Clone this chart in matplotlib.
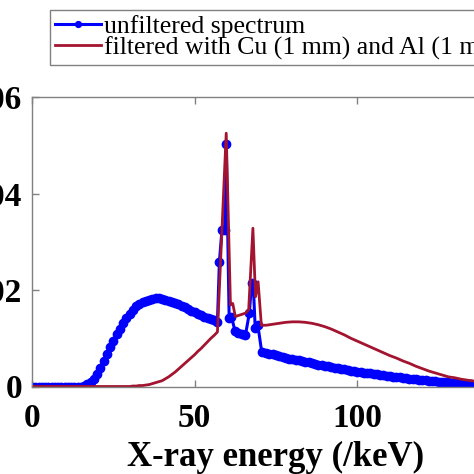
import matplotlib
matplotlib.use("Agg")
import matplotlib.pyplot as plt

# unfiltered spectrum (blue, with markers)
blue_e = list(range(0, 58)) + [57.6, 58.4, 59.2, 59.7, 60.6, 61.3, 62.4, 63.4, 64.5, 65.6,
                                66.8, 67.5, 68.0, 68.6, 69.4, 70.6] + list(range(72, 141))
blue_v = [0] * 16 + [
    .0002, .0005, .0009, .0016, .0026, .0039, .0053, .0067, .0081, .0095,
    .0108, .0120, .0132, .0142, .0151, .0159, .0166, .0171, .0175, .0178,
    .0180, .0182, .0183, .0183, .0182, .0180, .0178, .0176, .0173, .0170,
    .0167, .0164, .0160, .0157, .0154, .0151, .0148, .0145, .0142, .0140,
    .0137, .0134,
    # K lines
    .0259, .0325, .0325, .0502, .0143, .0145, .0115, .0110, .0108, .0106,
    .0152, .0214, .0213, .0122, .0128, .0072,
    # 72..140
    .0070, .0068, .0067, .0065, .0063, .0062, .0060, .0058, .0057, .0055,
    .0054, .0052, .0051, .0050, .0048, .0047, .0045, .0044, .0043, .0042,
    .0040, .0039, .0038, .0037, .0036, .0034, .0033, .0032, .0031, .0030,
    .0029, .0028, .0027, .0026, .0025, .0024, .0023, .0022, .0021, .0020,
    .0019, .0019, .0018, .0017, .0016, .0016, .0015, .0014, .0013, .0013,
    .0012, .0011, .0011, .0010, .0010, .0009, .0009, .0008, .0008, .0007,
    .0007, .0006, .0005, .0005, .0004, .0003, .0002, .0001, .0000]

# filtered with Cu + Al (dark red line)
red_e = list(range(0, 58)) + [59.7, 61.0, 61.7, 62.5, 65.6, 66.6, 67.9, 68.7, 69.5, 70.5] \
    + list(range(72, 141, 2))
red_v = [0] * 31 + [
    .0001, .0001, .0002, .0002, .0003, .0004, .0006, .0008, .0010, .0012,
    .0016, .0020, .0025, .0030, .0036, .0042, .0048, .0054, .0060, .0066,
    .0073, .0079, .0086, .0093, .0100, .0106, .0113,
    .0525, .0169, .0172, .0145, .0152, .0159, .0328, .0186, .0217, .0127,
    # 72..140 step 2
    .0127, .0129, .0131, .0133, .0134, .0134, .0133, .0131, .0128, .0124,
    .0119, .0113, .0107, .0100, .0094, .0088, .0082, .0076, .0070, .0064,
    .0059, .0053, .0048, .0042, .0037, .0032, .0028, .0024, .0020, .0018,
    .0015, .0013, .0011, .0006, .0000]

ytick_vals = [0, 0.02, 0.04, 0.06]
ytick_labels = ["0", "0.02", "0.04", "0.06"]
xtick_vals = [0, 50, 100]

W = 474
fig = plt.figure(figsize=(4.74, 4.74), dpi=100)
ax = fig.add_axes([32 / W, (W - 386.5) / W, 488 / W, 289.5 / W])

blue = ax.plot(blue_e, blue_v, color="#0000ff", lw=2.2, marker="o", ms=6,
               label="unfiltered spectrum")[0]
red = ax.plot(red_e, red_v, color="#a2142f", lw=2,
              label="filtered with Cu (1 mm) and Al (1 mm)")[0]

ax.set_xlim(0, 150)
ax.set_ylim(0, 0.06)
ax.set_xticks(xtick_vals)
ax.set_yticks(ytick_vals)
ax.set_yticklabels(ytick_labels)

tickfont = {"family": "Liberation Serif", "weight": "bold", "size": 24}
for lab in ax.get_xticklabels() + ax.get_yticklabels():
    lab.set_fontproperties(tickfont)
ax.tick_params(direction="in", length=5, width=1, color="gray", top=True, right=True)
ax.tick_params(axis="x", pad=12)
ax.tick_params(axis="y", pad=7)
for s in ax.spines.values():
    s.set_color("gray")
    s.set_linewidth(1)

ax.set_xlabel("X-ray energy (/keV)", family="Liberation Serif", weight="bold",
              size=25, labelpad=5)

fig.legend(handles=[blue, red], loc="lower left",
           bbox_to_anchor=(50 / W, 1 - 65 / W), bbox_transform=fig.transFigure,
           prop={"family": "Liberation Serif", "size": 18.5}, fancybox=False,
           edgecolor="gray", framealpha=1, handlelength=1.8, handletextpad=0.1,
           borderpad=0.2, labelspacing=-0.06, borderaxespad=0, numpoints=1,
           markerscale=0.7)

fig.savefig("out.png", dpi=100)
